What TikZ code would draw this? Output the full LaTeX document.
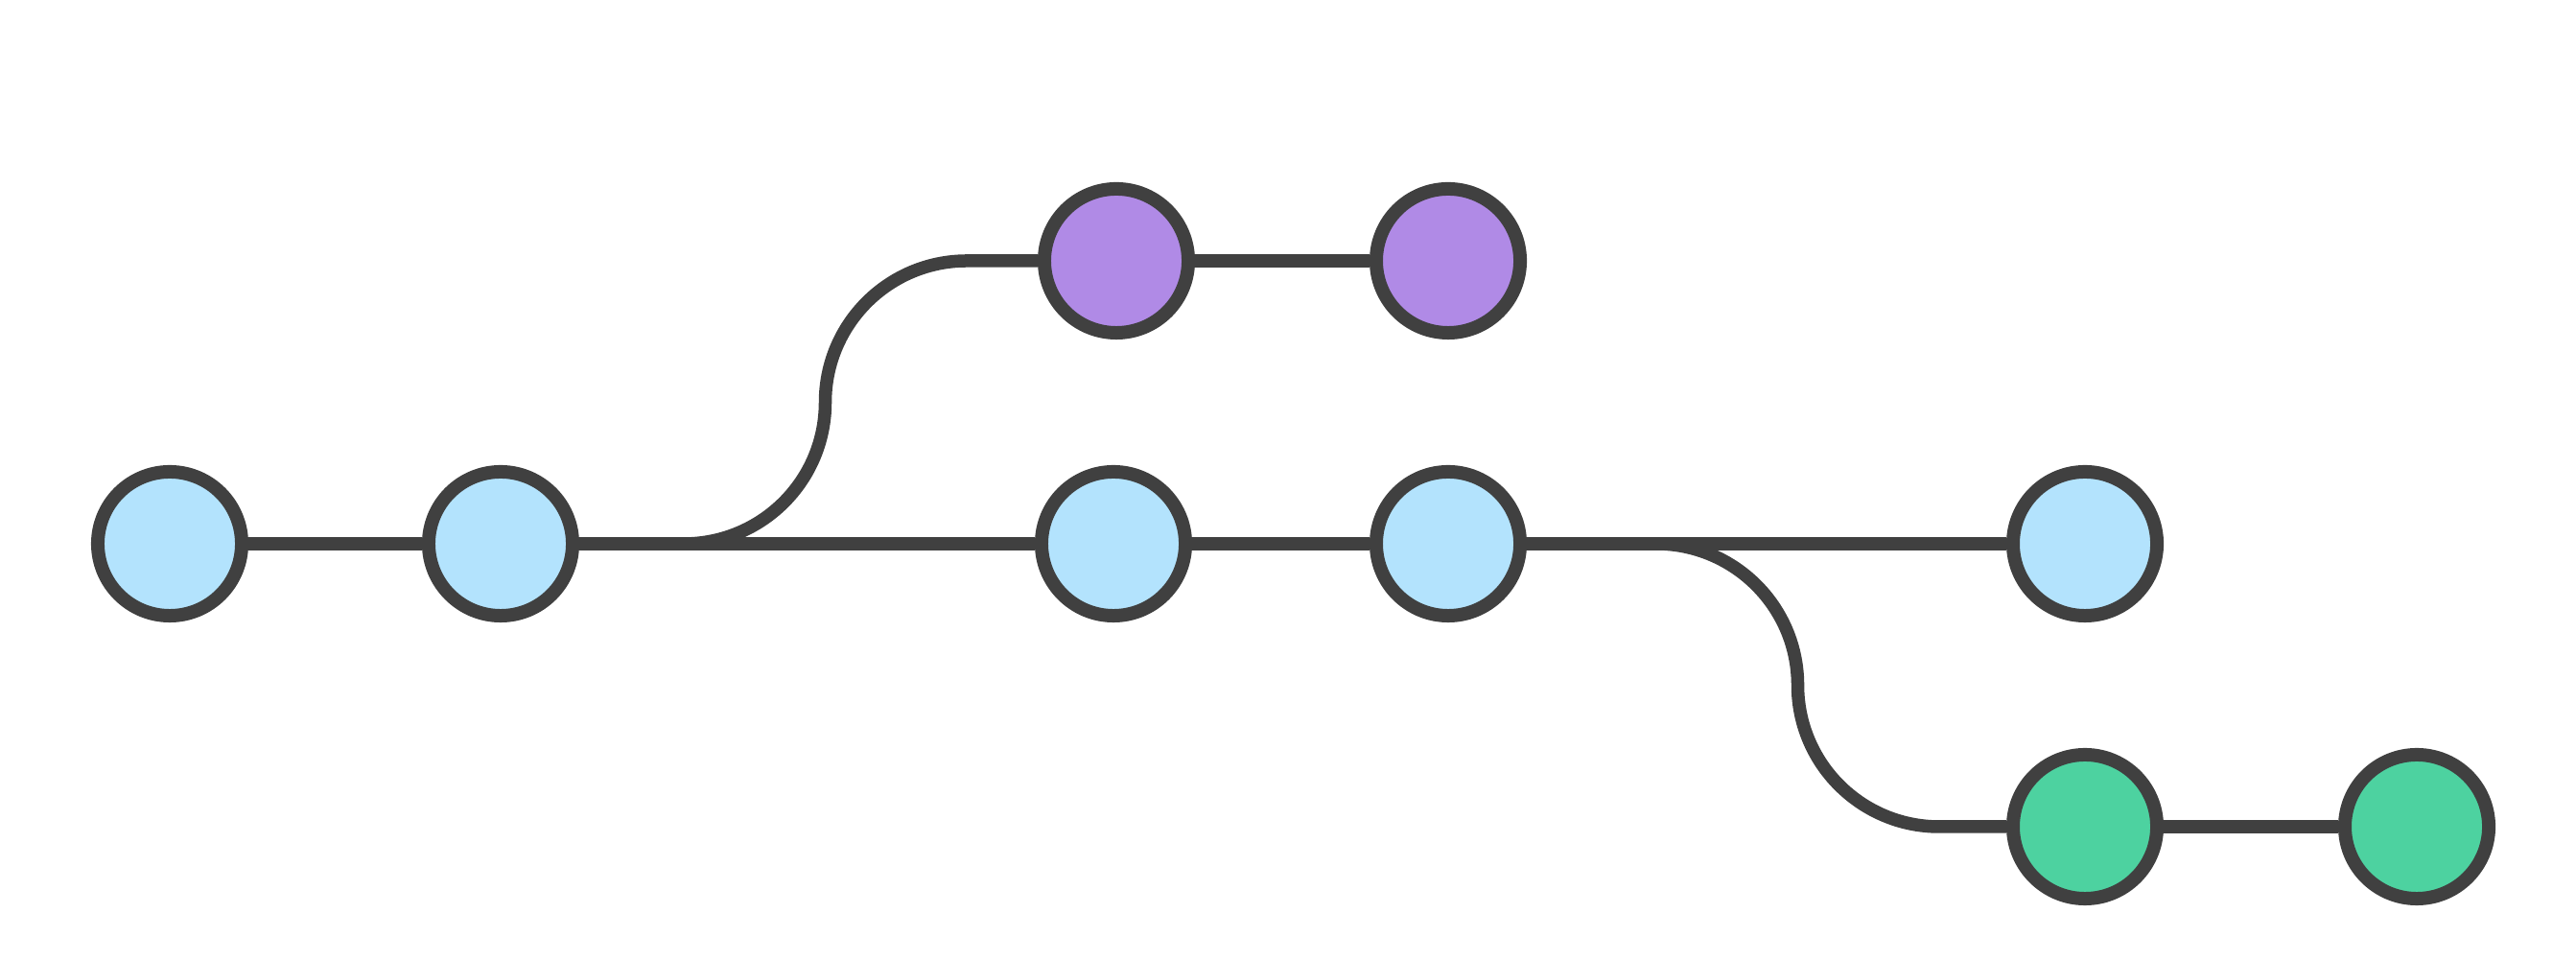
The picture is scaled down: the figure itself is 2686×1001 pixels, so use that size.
\documentclass[tikz,border=0pt]{standalone}
\definecolor{cblue}{HTML}{B3E3FD}
\definecolor{cpurple}{HTML}{B08AE6}
\definecolor{cgreen}{HTML}{4DD2A0}
\definecolor{cdark}{HTML}{404040}
\tikzset{
  commit/.style={circle, draw=cdark, line width=0.14cm, minimum size=1.50cm, inner sep=0pt},
  bluec/.style={commit, fill=cblue},
  purplec/.style={commit, fill=cpurple},
  greenc/.style={commit, fill=cgreen},
  edge/.style={draw=cdark, line width=0.135cm}
}
\begin{document}
\begin{tikzpicture}[x=0.01cm, y=0.01cm]
\useasboundingbox (0,0) rectangle (2686,1001);
\node[bluec] (b1) at (177,434) {};
\node[bluec] (b2) at (522,434) {};
\node[bluec] (b3) at (1161,434) {};
\node[bluec] (b4) at (1510,434) {};
\node[bluec] (b5) at (2174,434) {};
\node[purplec] (p1) at (1164,729) {};
\node[purplec] (p2) at (1510,729) {};
\node[greenc] (g1) at (2174,139) {};
\node[greenc] (g2) at (2520,139) {};
\coordinate (f1) at (713,434);
\coordinate (f2) at (1727,434);
\draw[edge] (b1) -- (b2);
\draw[edge] (b2) -- (b3);
\draw[edge] (b3) -- (b4);
\draw[edge] (b4) -- (b5);
\draw[edge] (p1) -- (p2);
\draw[edge] (g1) -- (g2);
\draw[edge] (f1) arc[start angle=-90, end angle=0, radius=147.5]
  arc[start angle=180, end angle=90, radius=147.5] -- (p1);
\draw[edge] (f2) arc[start angle=90, end angle=0, radius=147.5]
  arc[start angle=180, end angle=270, radius=147.5] -- (g1);
\end{tikzpicture}
\end{document}
